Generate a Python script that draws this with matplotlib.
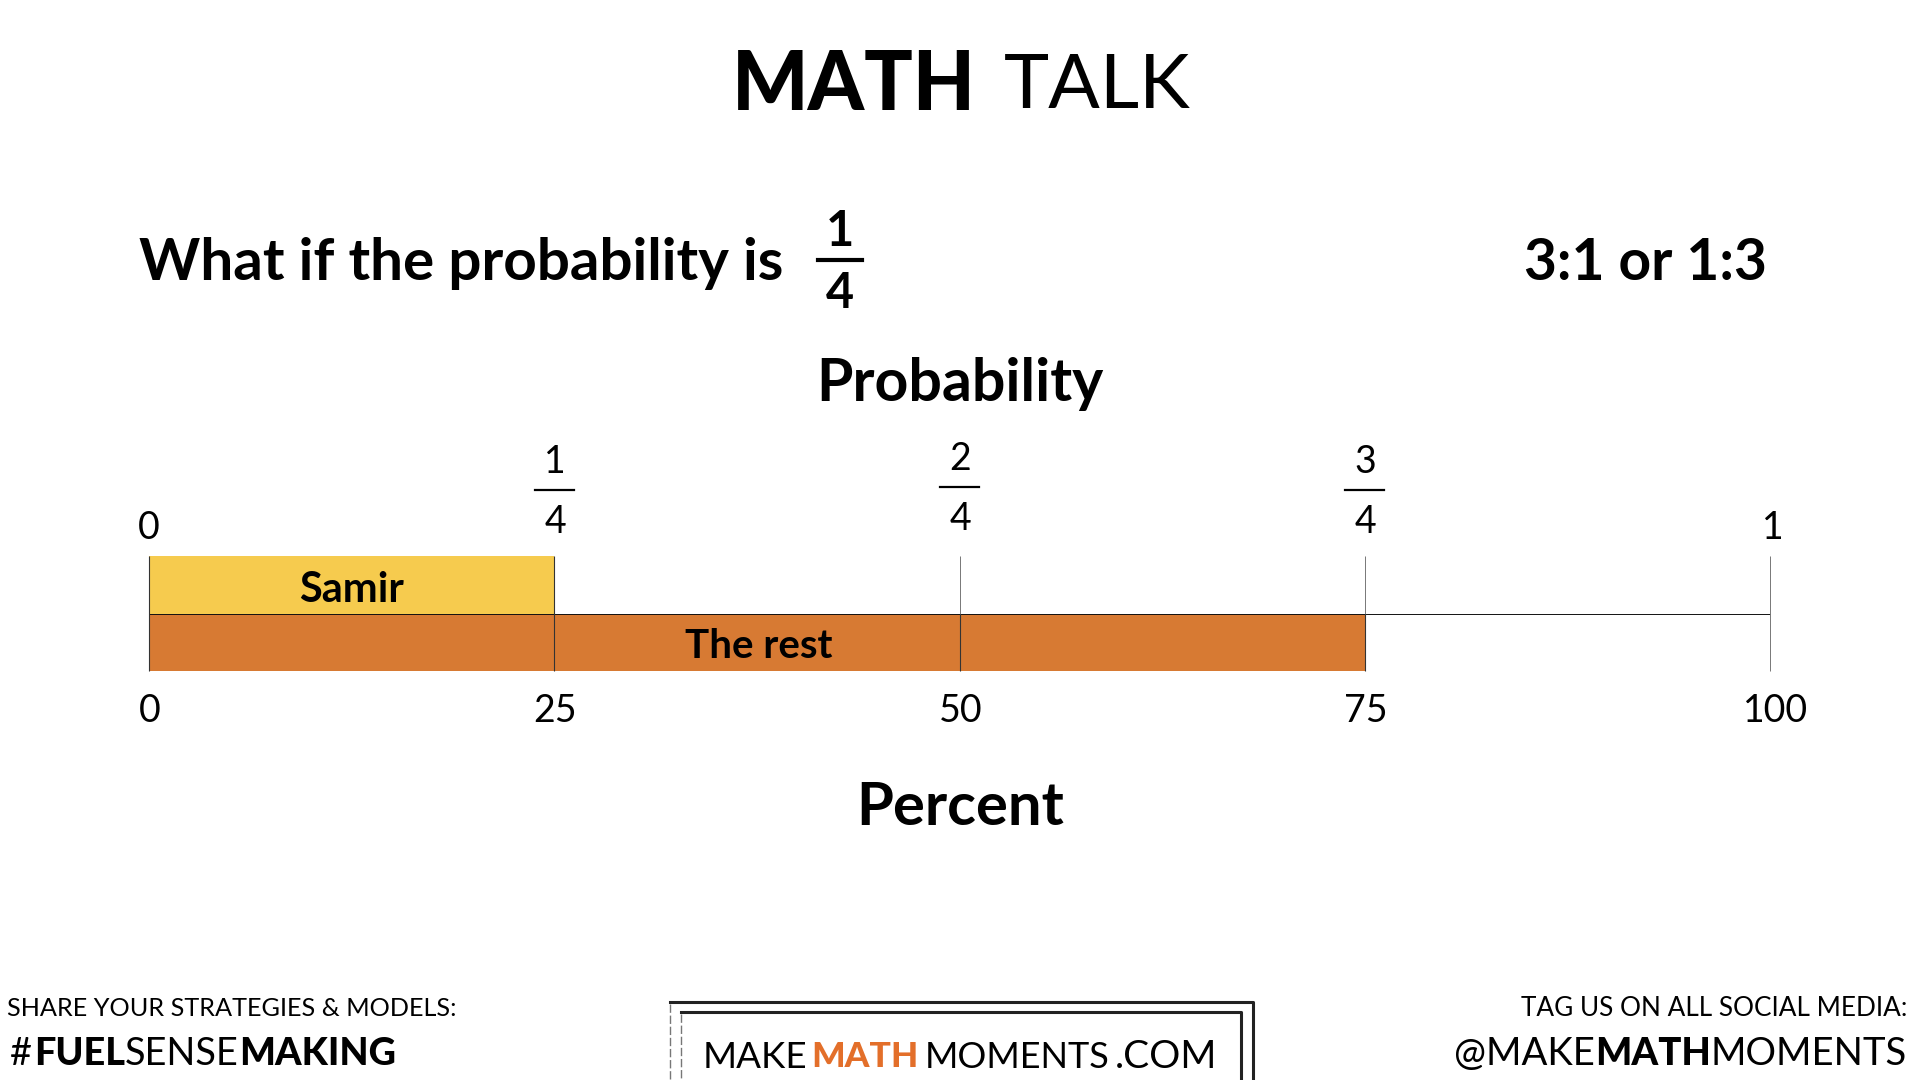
import matplotlib
matplotlib.use("Agg")
import matplotlib.pyplot as plt

plt.rcParams['font.family'] = ['Lato', 'DejaVu Sans']

title_bold = "MATH"
title_light = "TALK"
question = "What if the probability is"
question_num = "1"
question_den = "4"
ratio_text = "3:1 or 1:3"
top_label = "Probability"
bottom_label = "Percent"

percent_ticks = [0, 25, 50, 75, 100]
percent_labels = ["0", "25", "50", "75", "100"]
fraction_nums = ["1", "2", "3"]
fraction_ticks = [25, 50, 75]
fraction_den = "4"
samir_end = 25
rest_end = 75
samir_label = "Samir"
rest_label = "The rest"

ORANGE = "#d77a33"
YELLOW = "#f6cb4e"
LOGO = "#e36f2a"

W, H = 1920, 1080
fig = plt.figure(figsize=(19.2, 10.8), dpi=100, facecolor="white")

# page layer in pixels, y going down
page = fig.add_axes([0, 0, 1, 1])
page.set_xlim(0, W)
page.set_ylim(H, 0)
page.axis("off")

# number line, 0..100 spans the bar width
left, right, top, bottom = 149, 1770, 556, 671
ax = fig.add_axes([left / W, 1 - bottom / H, (right - left) / W, (bottom - top) / H])
ax.set_xlim(0, 100)
ax.set_ylim(0, 2)
ax.axis("off")

ax.barh(1, samir_end, height=1, align="edge", color=YELLOW, linewidth=0)
ax.barh(0, rest_end, height=1, align="edge", color=ORANGE, linewidth=0)
ax.plot([0, 100], [1, 1], color="#111111", lw=0.7, clip_on=False)
for t in percent_ticks:
    if t <= samir_end:
        ax.plot([t, t], [0, 2], color="#333333", lw=0.8, solid_capstyle="butt", clip_on=False)
    elif t <= rest_end:
        ax.plot([t, t], [1, 2], color="#777777", lw=0.7, solid_capstyle="butt", clip_on=False)
        ax.plot([t, t], [0, 1], color="#333333", lw=0.8, solid_capstyle="butt", clip_on=False)
    else:
        ax.plot([t, t], [0, 2], color="#777777", lw=0.7, solid_capstyle="butt", clip_on=False)


def ypos(px):
    return (bottom - px) / (bottom - top)


def axtext(x, py, s, **kw):
    ax.text(x, ypos(py), s, transform=ax.get_xaxis_transform(), ha="center", va="center",
            color="black", **kw)


for t, lab in zip(percent_ticks, percent_labels):
    nudge = 0.37 if t == 100 else 0.05
    axtext(t + nudge, 711, lab, fontsize=27)

axtext(percent_ticks[0], 528, "0", fontsize=27)
axtext(percent_ticks[-1] + 0.15, 528, "1", fontsize=27)
for t, num in zip(fraction_ticks, fraction_nums):
    shift = -3 if t == 50 else 0
    axtext(t + 0.05, 462 + shift, num, fontsize=27)
    axtext(t + 0.05, 522 + shift, fraction_den, fontsize=27)
    ax.plot([t - 1.2, t + 1.2], [ypos(490 + shift)] * 2, color="black", lw=1.6,
            transform=ax.get_xaxis_transform(), clip_on=False)

axtext(samir_end / 2, 590, samir_label, fontsize=30, fontweight="bold")
axtext(37.6, 647, rest_label, fontsize=29, fontweight="bold")


def row(x, y, parts, anchor="left"):
    # parts of one line in turn, each (text, size, weight, colour, gap after)
    r = fig.canvas.get_renderer()
    arts = []
    total = 0
    for s, size, weight, col, gap in parts:
        t = page.text(0, y, s, fontsize=size, fontweight=weight, color=col, va="center", ha="left")
        w = t.get_window_extent(r).width
        arts.append((t, w, gap))
        total += w + gap
    cur = x - total if anchor == "right" else x
    for t, w, gap in arts:
        t.set_x(cur)
        cur += w + gap


row(732, 87, [(title_bold, 58, "black", "black", 28), (title_light, 55, "regular", "black", 0)])

page.text(139, 264, question, fontsize=42, fontweight="bold", va="center", ha="left")
page.text(840, 232, question_num, fontsize=35, fontweight="bold", va="center", ha="center")
page.text(840, 293, question_den, fontsize=35, fontweight="bold", va="center", ha="center")
page.plot([818, 862], [260, 260], color="black", lw=3)
page.text(1524, 264, ratio_text, fontsize=41, fontweight="bold", va="center", ha="left")
page.text(960, 384, top_label, fontsize=42.5, fontweight="bold", va="center", ha="center")
page.text(960, 808, bottom_label, fontsize=43, fontweight="bold", va="center", ha="center")

# footer
page.text(7, 1008, "SHARE YOUR STRATEGIES & MODELS:", fontsize=18.15, va="center")
row(10, 1054, [("#", 27.3, "regular", "black", 2), ("FUEL", 27.3, "black", "black", 0),
               ("SENSE", 27.3, "regular", "black", 0), ("MAKING", 27.3, "black", "black", 0)])
page.text(1907, 1008, "TAG US ON ALL SOCIAL MEDIA:", fontsize=18.8, va="center", ha="right")
row(1907, 1054, [("@MAKE", 27.5, "regular", "black", 0), ("MATH", 27.5, "black", "black", 0),
                 ("MOMENTS", 27.5, "regular", "black", 0)], anchor="right")

# logo box runs off the bottom edge
page.plot([670, 1253, 1253], [1002, 1002, 1080], color="#222222", lw=2.2)
page.plot([670, 670], [1004, 1080], color="#777777", lw=1, ls=(0, (6, 2)))
page.plot([681, 1241, 1241], [1012, 1012, 1080], color="#222222", lw=2.2)
page.plot([681, 681], [1014, 1080], color="#777777", lw=1, ls=(0, (6, 2)))
row(703, 1057, [("MAKE", 26.5, "regular", "black", 4), ("MATH", 25.5, "black", LOGO, 6),
                ("MOMENTS", 26, "regular", "black", 5), (".COM", 28, "regular", "black", 0)])

fig.savefig("out.png", dpi=100, facecolor="white")
